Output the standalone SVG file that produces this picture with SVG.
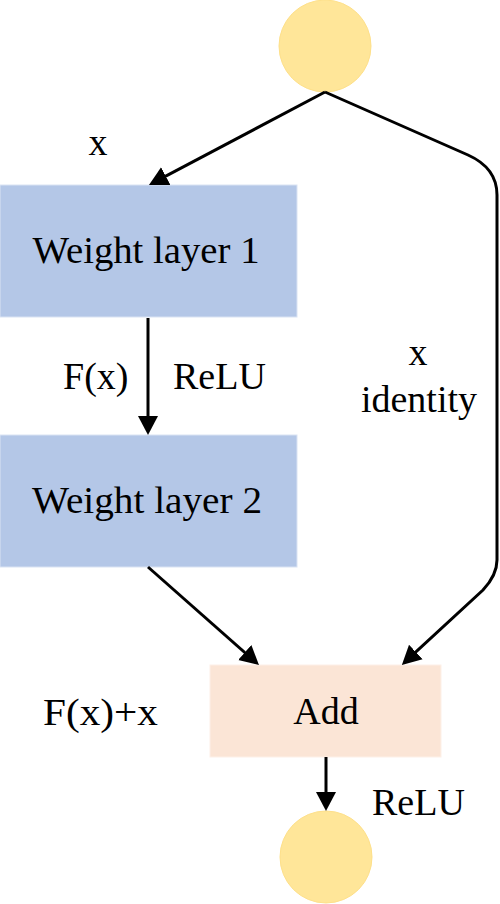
<svg xmlns="http://www.w3.org/2000/svg" width="500" height="904" viewBox="0 0 500 904">
  <defs>
    <style>
      .t { font-family: 'Liberation Serif', 'Times New Roman', Tinos, 'Nimbus Roman', 'DejaVu Serif', 'Noto Serif', serif; font-size: 38px; fill: #000; }
      .box-blue { fill: #B4C7E7; stroke: #DAE3F3; stroke-width: 1; }
      .box-peach { fill: #FBE5D6; stroke: #FDF0E8; stroke-width: 1; }
      .circ { fill: #FFE699; stroke: #FEE08A; stroke-width: 1; }
      .conn { fill: none; stroke: #000; stroke-width: 3; marker-end: url(#arrow); }
    </style>
    <marker id="arrow" markerUnits="userSpaceOnUse" markerWidth="20" markerHeight="22" refX="15" refY="11" orient="auto">
      <path d="M0,1 L19,11 L0,21 z" fill="#000"/>
    </marker>
  </defs>
  <rect width="500" height="904" fill="#fff"/>

  <g id="input">
    <circle class="circ" cx="325" cy="46" r="46"/>
  </g>
  <g id="weight1">
    <rect class="box-blue" x="0" y="185" width="297" height="132"/>
    <text class="t" font-family="Liberation Serif, DejaVu Serif, serif" x="146" y="263" text-anchor="middle" textLength="227" lengthAdjust="spacingAndGlyphs">Weight layer 1</text>
  </g>
  <g id="weight2">
    <rect class="box-blue" x="0" y="435" width="297" height="132"/>
    <text class="t" font-family="Liberation Serif, DejaVu Serif, serif" x="147" y="513" text-anchor="middle" textLength="230" lengthAdjust="spacingAndGlyphs">Weight layer 2</text>
  </g>
  <g id="add">
    <rect class="box-peach" x="210" y="665" width="231" height="92"/>
    <text class="t" font-family="Liberation Serif, DejaVu Serif, serif" x="326" y="724" text-anchor="middle">Add</text>
  </g>
  <g id="output">
    <circle class="circ" cx="326" cy="857" r="46"/>
  </g>

  <g id="connectors">
    <path class="conn" d="M325,92 L152.5,183.1"/>
    <path class="conn" d="M325,92 L468,155 Q497,168 497,195 L497,560 Q497,575 483,590 L404.8,662.2"/>
    <path class="conn" d="M148,318 L148,431"/>
    <path class="conn" d="M148,567 L256,662.4"/>
    <path class="conn" d="M326,757 L326,807"/>
  </g>

  <g id="labels" font-family="Liberation Serif, DejaVu Serif, serif">
    <text class="t" x="98" y="155" text-anchor="middle">x</text>
    <text class="t" x="63" y="389">F(x)</text>
    <text class="t" x="173" y="389">ReLU</text>
    <text class="t" x="418" y="365" text-anchor="middle">x</text>
    <text class="t" x="419" y="412" text-anchor="middle">identity</text>
    <text class="t" x="43" y="725" textLength="115" lengthAdjust="spacingAndGlyphs">F(x)+x</text>
    <text class="t" x="372" y="815">ReLU</text>
  </g>
</svg>
